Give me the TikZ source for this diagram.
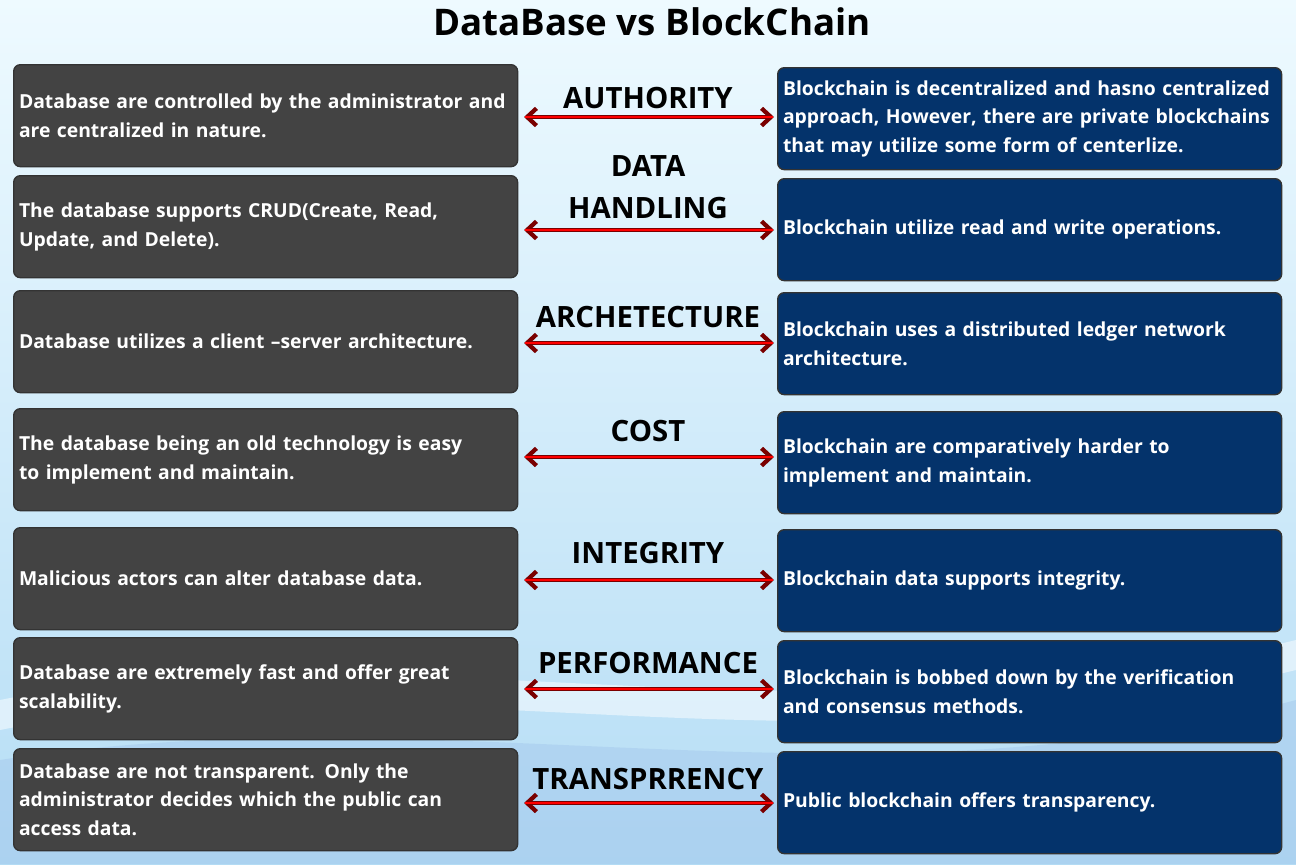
\documentclass[tikz,border=0pt]{standalone}
\usepackage{fontspec}
\setmainfont{Open Sans}
\usetikzlibrary{arrows.meta}
\definecolor{lbox}{HTML}{434343}
\definecolor{rbox}{HTML}{04336B}
\definecolor{arrd}{HTML}{7A0000}
\definecolor{bgtop}{HTML}{EEFAFF}
\definecolor{bgbot}{HTML}{B5DDF5}
\begin{document}
\begin{tikzpicture}[x=0.75pt,y=-0.75pt,
  bx/.style={draw=black!80,line width=1pt,rounded corners=5pt,text=white,
    font=\bfseries\fontsize{14.5}{21.5}\selectfont,align=left,anchor=north west,
    inner xsep=4pt,inner ysep=0pt,minimum width=378pt,minimum height=76.5pt,text width=370pt},
  lb/.style={bx,fill=lbox},
  rb/.style={bx,fill=rbox},
  lab/.style={font=\bfseries\fontsize{22}{31}\selectfont,align=center},
  dbl/.style={line width=3.2pt,arrd,{Straight Barb[length=7pt,width=13pt]}-{Straight Barb[length=7pt,width=13pt]}},
  dbi/.style={line width=1.3pt,red,shorten <=1pt,shorten >=1pt}]
\shade[top color=bgtop,bottom color=bgbot] (0,0) rectangle (1296,864);
\useasboundingbox (0,0) rectangle (1296,864);
\fill[white,opacity=0.5] (0,700) .. controls (400,620) and (800,760) .. (1296,640) -- (1296,670) .. controls (800,790) and (400,650) .. (0,730) -- cycle;
\fill[cyan!60!blue!40,opacity=0.35] (0,760) .. controls (450,690) and (850,820) .. (1296,700) -- (1296,864) -- (0,864) -- cycle;
\node[font=\bfseries\fontsize{27.5}{34}\selectfont] (title) at (652,22) {DataBase vs BlockChain};
\newcommand\myrow[8]{%
  \node[lb] (l#1) at (13,#2) {#3};
  \node[rb] (r#1) at (777,#4) {#5};
  \coordinate (a#1) at (524,#6); \coordinate (b#1) at (774,#6);
  \draw[dbl] (a#1) -- (b#1); \draw[dbi] (a#1) -- (b#1);
  \node[lab] (t#1) at (648,#7) {#8};}
\myrow{1}{64}{Database are controlled by the administrator and\\are centralized in nature.}{67}{Blockchain is decentralized and hasno centralized\\approach, However, there are private blockchains\\that may utilize some form of centerlize.}{117}{98}{AUTHORITY}
\myrow{2}{175}{The database supports CRUD(Create, Read,\\Update, and Delete).}{178}{Blockchain utilize read and write operations.}{230}{187}{DATA\\HANDLING}
\myrow{3}{290}{Database utilizes a client –server architecture.}{292}{Blockchain uses a distributed ledger network\\architecture.}{343}{317}{ARCHETECTURE}
\myrow{4}{408}{The database being an old technology is easy\\to implement and maintain.}{411}{Blockchain are comparatively harder to\\implement and maintain.}{457}{431}{COST}
\myrow{5}{527}{Malicious actors can alter database data.}{529}{Blockchain data supports integrity.}{580}{553}{INTEGRITY}
\myrow{6}{637}{Database are extremely fast and offer great\\scalability.}{640}{Blockchain is bobbed down by the verification\\and consensus methods.}{689}{663}{PERFORMANCE}
\myrow{7}{748}{Database are not transparent. Only the\\administrator decides which the public can\\access data.}{751}{Public blockchain offers transparency.}{803}{779}{TRANSPRRENCY}
\end{tikzpicture}
\end{document}
